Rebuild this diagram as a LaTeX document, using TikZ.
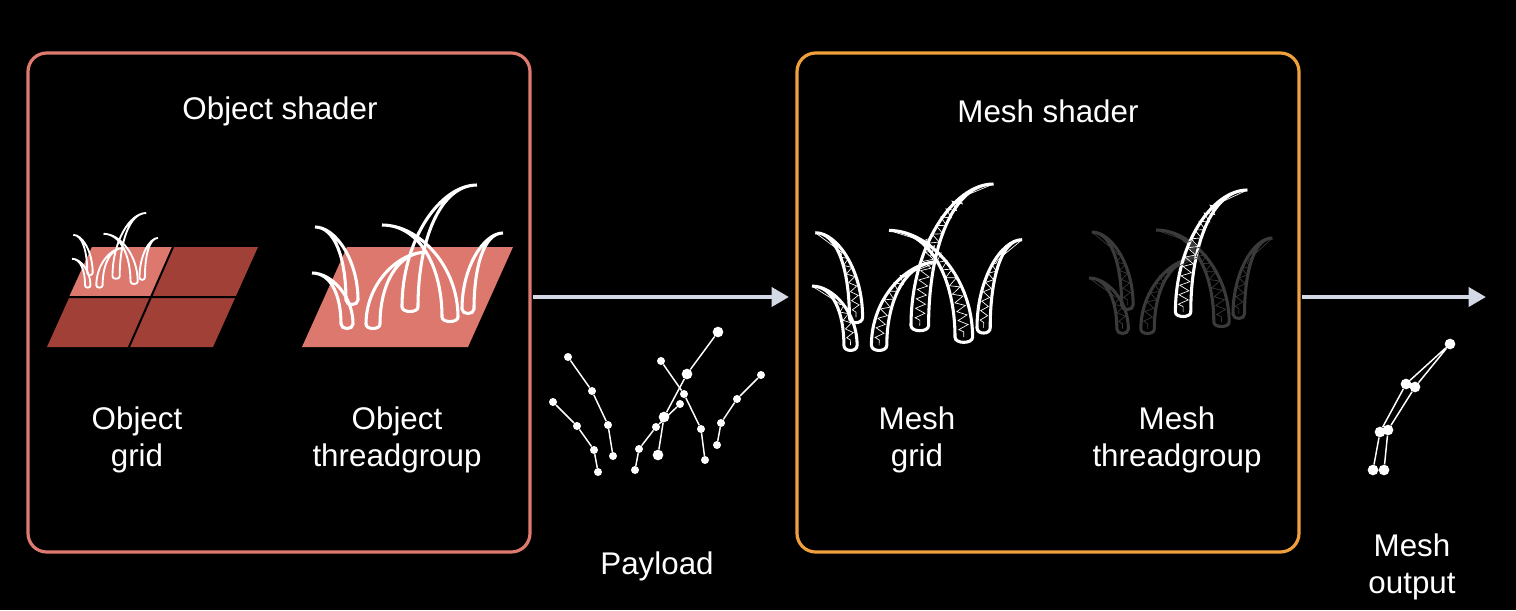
\documentclass[tikz,border=0pt]{standalone}
\usepackage{fontspec}
\setmainfont{Liberation Sans}
\usetikzlibrary{arrows.meta,decorations.pathmorphing}
\definecolor{objc}{HTML}{DE7A70}
\definecolor{planeL}{HTML}{DC786E}
\definecolor{planeD}{HTML}{A04036}
\definecolor{meshc}{HTML}{F0A03A}
\definecolor{arrc}{HTML}{D3DAE6}
\definecolor{dimg}{HTML}{3A3A3A}
\newcommand\myblade[6][]{%
 \pgfmathsetmacro\cyy{#3+0.55*(#6-#3)}%
 \pgfmathsetmacro\cxx{#2+0.45*(#5-#2)}%
 \draw[#1] (#2-#4,#3) .. controls (#2-#4,\cyy) and (\cxx,#6) .. (#5,#6) .. controls (\cxx,#6) and (#2+#4,\cyy) .. (#2+#4,#3) .. controls (#2+#4,#3+6) and (#2-#4,#3+6) .. (#2-#4,#3) -- cycle;}
\newcommand\mytruss[6][]{%
 \pgfmathsetmacro\cyy{#3+0.55*(#6-#3)}%
 \pgfmathsetmacro\cxx{#2+0.45*(#5-#2)}%
 \draw[#1,decorate,decoration={zigzag,segment length=7pt,amplitude=#4*0.45pt,pre length=4pt,post length=25pt}] (#2,#3) .. controls (#2,\cyy) and (\cxx,#6) .. (#5,#6);}
\newcommand\mygrass[2]{%
 \myblade[#2]{352}{300}{6}{315}{227}
 \myblade[#2]{347}{324}{6}{312}{273}
 \myblade[#2]{373}{324}{7}{427}{252}
 \myblade[#2]{450}{317}{8}{382}{225}
 \myblade[#2]{468}{309}{6}{503}{233}
 \myblade[#1]{410}{307}{8}{477}{185}}
\newcommand\mytrussall[2]{%
 \mytruss[#2]{352}{300}{6}{315}{227}
 \mytruss[#2]{347}{324}{6}{312}{273}
 \mytruss[#2]{373}{324}{7}{427}{252}
 \mytruss[#2]{450}{317}{8}{382}{225}
 \mytruss[#2]{468}{309}{6}{503}{233}
 \mytruss[#1]{410}{307}{8}{477}{185}}
\begin{document}
\begin{tikzpicture}[x=0.75pt,y=-0.75pt,
 box/.style={rounded corners=14pt,line width=2.4pt},
 title/.style={text=white,font=\fontsize{23.5}{28}\selectfont},
 lbl/.style={text=white,align=center,font=\fontsize{23.5}{28}\selectfont},
 flow/.style={draw=arrc,line width=3.6pt,-{Triangle[length=13pt,width=14pt]}},
 pl/.style={white,line width=1.1pt},
 dot/.style={circle,fill=white,inner sep=0pt,minimum size=6pt},
 bdot/.style={circle,fill=white,inner sep=0pt,minimum size=8pt},
 bl/.style={white,line width=2.3pt}]
\fill[black] (0,0) rectangle (1516,610);
\useasboundingbox (0,0) rectangle (1516,610);
% boxes
\draw[box,objc] (28,53) rectangle (530,552);
\draw[box,meshc] (797,53) rectangle (1299,552);
\node[title] (t1) at (280,111) {Object shader};
\node[title] (t2) at (1048,111) {Mesh shader};
% object grid plane
\fill[planeD] (47,347) -- (213,347) -- (258,247) -- (92,247) -- cycle;
\fill[planeL] (92,247) -- (173,247) -- (151,297) -- (69,297) -- cycle;
\draw[black,line width=1.5pt] (68,297) -- (236,297) (173,247) -- (129,347);
\begin{scope}[shift={(72,213)},xscale=0.45,yscale=0.52,shift={(-312,-185)}]
 \mygrass{white,line width=1.4pt}{white,line width=1.4pt}
\end{scope}
% object threadgroup
\fill[planeL] (302,347) -- (468,347) -- (513,247) -- (347,247) -- cycle;
\mygrass{bl}{bl}
% mesh grid
\begin{scope}[shift={(812,184)},xscale=1.1,yscale=1.16,shift={(-312,-185)}]
 \mygrass{bl}{bl}
 \mytrussall{white,line width=0.5pt}{white,line width=0.5pt}
\end{scope}
% mesh threadgroup
\begin{scope}[shift={(1089,190)},xscale=0.96,yscale=1.0,shift={(-312,-185)}]
 \mygrass{bl}{dimg,line width=2.3pt}
 \mytrussall{white,line width=0.5pt}{dimg,line width=0.5pt}
\end{scope}
% labels
\node[lbl] (l1) at (137,440) {Object\\grid};
\node[lbl] (l2) at (397,440) {Object\\threadgroup};
\node[lbl] (l3) at (917,440) {Mesh\\grid};
\node[lbl] (l4) at (1177,440) {Mesh\\threadgroup};
\node[lbl] (l5) at (657,566) {Payload};
\node[lbl] (l6) at (1412,567) {Mesh\\output};
% arrows
\coordinate (a1s) at (533,297); \coordinate (a1e) at (789,297);
\coordinate (a2s) at (1302,297); \coordinate (a2e) at (1486,297);
\draw[flow] (a1s) -- (a1e);
\draw[flow] (a2s) -- (a2e);
% payload
\foreach \nm/\pts/\st in {
 c1/{568/357,592/391,608/425,613/456}/dot,
 c2/{553/402,577/426,594/450,598/472}/dot,
 c4/{661/361,684/394,701/429,705/460}/dot,
 c5/{680/404,656/427,639/449,635/470}/dot,
 c6/{761/375,737/399,721/423,717/445}/dot,
 c3/{718/332,687/374,664/417,658/455}/bdot}{
 \foreach \x/\y [count=\i] in \pts {\node[\st] (\nm\i) at (\x,\y) {};}
 \draw[pl] (\nm1) -- (\nm2) -- (\nm3) -- (\nm4);
}
% mesh output
\node[bdot] (m0) at (1450,344) {};
\node[bdot] (m1) at (1415,387) {};
\node[bdot] (m2) at (1406,384) {};
\node[bdot] (m3) at (1388,430) {};
\node[bdot] (m4) at (1380,432) {};
\node[bdot] (m5) at (1384,470) {};
\node[bdot] (m6) at (1373,470) {};
\draw[pl] (m0) -- (m1) -- (m3) -- (m5) -- (m6) -- (m4) -- (m2) -- (m0);
\end{tikzpicture}
\end{document}
